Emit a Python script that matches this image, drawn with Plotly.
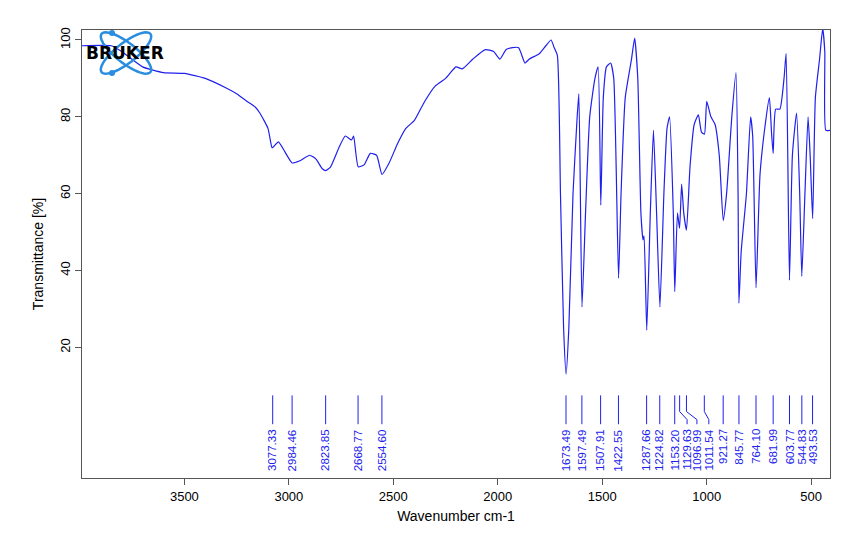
import numpy as np
import plotly.graph_objects as go

wn = [3990,3850,3800,3700,3600,3500,3400,3300,3250,3200,3160,3139,3100,3081,3077,3050,3020,2984,2950,2900,2870,2840,2823,2800,2760,2730,2700,2690,2668,2640,2610,2580,2554,2520,2480,2440,2400,2350,2300,2250,2200,2170,2120,2060,2020,1990,1960,1930,1900,1870,1850,1800,1770,1745,1730,1715,1700,1685,1673,1660,1640,1620,1612,1597,1580,1560,1535,1520,1507,1495,1480,1460,1445,1422,1410,1390,1360,1345,1330,1315,1305,1300,1287,1270,1255,1240,1224,1205,1190,1178,1160,1153,1140,1130,1120,1110,1097,1080,1060,1040,1025,1011,1000,980,960,940,921,905,880,860,850,846,835,810,790,780,764,745,720,700,690,682,670,650,630,620,604,590,570,555,545,530,515,505,493,480,460,445,435,430,410]
tr = [98.5,98.5,97,93,91.5,91.3,90,87.5,86,84,82.5,81,77,72,72,73.5,71,68,68.5,70,69,66.5,66,67,72,75,74,75,67,67.5,70.5,70,65,68,73,77,79,84,88,90,93,92.5,95,97.5,97,95,97.5,98,98,94,95,96.5,98.5,100,98,96,60,25,13,25,60,80,86,30.5,55,80,90,93,57,85,93,94,90,38,60,85,95,100.5,90,55,48,49,24.5,55,76.5,55,30.5,60,77,80,55,34.5,55,51,62.5,55,50.5,67,78,80.5,76,75.5,84,80,78,70,53,60,80,91.5,60,31.5,45,60,80,75,35.5,65,78,85,76,70.5,82,82,90,96.5,37.5,70,81,60,38.5,60,80,70,53.5,85,95,103,97,76.5,76.5]

peaks = [3077.33,2984.46,2823.85,2668.77,2554.60,1673.49,1597.49,1507.91,1422.55,1287.66,1224.82,1153.20,1129.63,1096.99,1011.54,921.27,845.77,764.10,681.99,603.77,544.83,493.53]
label_pos = [3077.33,2984.46,2823.85,2668.77,2554.60,1673.49,1597.49,1507.91,1422.55,1287.66,1224.82,1153.20,1094,1047,990,921.27,845.77,764.10,681.99,603.77,544.83,493.53]

BLUE = "#2020ee"
fig = go.Figure()
fig.add_trace(go.Scatter(x=wn, y=tr, mode="lines", line=dict(color=BLUE, width=1.2, shape="spline", smoothing=0.5), hoverinfo="skip"))
for p, lp in zip(peaks, label_pos):
    fig.add_trace(go.Scatter(x=[p, p, lp, lp], y=[7.5, 3.3, 1.2, 0], mode="lines", line=dict(color=BLUE, width=1), hoverinfo="skip"))
    fig.add_annotation(x=lp, y=-0.8, text=f"{p:.2f}", textangle=-90, showarrow=False, yanchor="top", xanchor="center", font=dict(color=BLUE, size=11.5))

OFF = 8
L, R, T, B = 74, 26, 22, 63
W, H = 848, 533
pw, ph = W - L - R, H - T - B
def px(x): return (x - OFF - L) / pw
def py(y): return (H - B - (y - OFF)) / ph

shapes = []
cx, cy = 126, 53
tt = np.linspace(0, 2*np.pi, 60)
for ang in (38, -38):
    a = np.radians(ang)
    ex = 31*np.cos(tt); ey = 10*np.sin(tt)
    xs = cx + ex*np.cos(a) - ey*np.sin(a)
    ys = cy + ex*np.sin(a) + ey*np.cos(a)
    path = "M " + " L ".join(f"{px(x):.5f},{py(y):.5f}" for x, y in zip(xs, ys)) + " Z"
    shapes.append(dict(type="path", path=path, xref="paper", yref="paper", line=dict(color="#2a8ee0", width=2.5)))
for dy in (33, 73):
    shapes.append(dict(type="circle", xref="paper", yref="paper", x0=px(109), x1=px(115), y0=py(dy+3), y1=py(dy-3), fillcolor="#2a8ee0", line=dict(width=0)))
fig.add_annotation(x=px(125), y=py(53), xref="paper", yref="paper", xanchor="center", yanchor="middle",
                   text="<b>BRUKER</b>", showarrow=False, font=dict(family="DejaVu Sans", size=17, color="black"))

ax = dict(showline=True, linecolor="#555", mirror=True, ticks="outside", ticklen=6, tickcolor="#555", showgrid=False, zeroline=False,
          tickfont=dict(size=13, color="black"))
fig.update_layout(width=W, height=H, margin=dict(l=L, r=R, t=T, b=B), plot_bgcolor="white", paper_bgcolor="white",
                  showlegend=False, shapes=shapes, font=dict(family="Liberation Sans", color="black"),
                  xaxis=dict(range=[3990, 410], tickvals=[3500,3000,2500,2000,1500,1000,500], title=dict(text="Wavenumber cm-1", font=dict(size=14), standoff=8), **ax),
                  yaxis=dict(range=[-14, 102.6], tickvals=[20,40,60,80,100], title=dict(text="Transmittance [%]", font=dict(size=14), standoff=10), tickangle=-90, **ax))
fig.write_html("out.html")
